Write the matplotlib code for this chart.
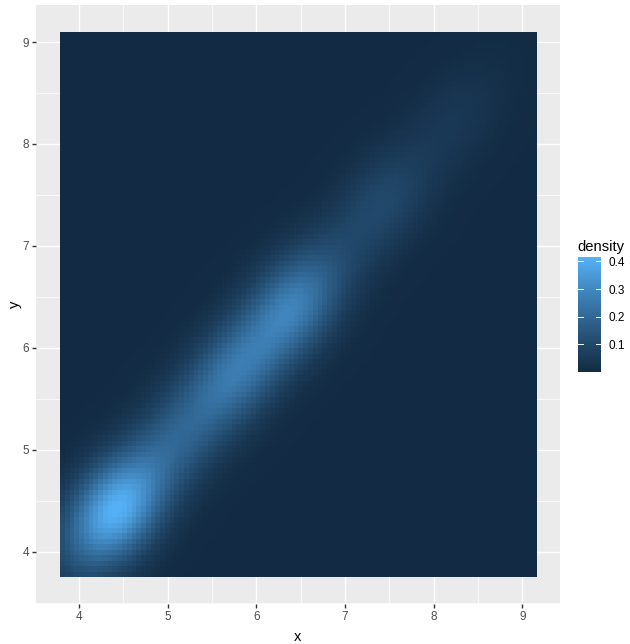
import numpy as np
import matplotlib
matplotlib.use("Agg")
import matplotlib.pyplot as plt
from matplotlib.colors import ListedColormap

plt.rcParams['font.family'] = ['Liberation Sans', 'DejaVu Sans']

# puntos (x, y) a lo largo de la diagonal y cuántas veces aparecen
pt_x = [3.81, 3.85, 3.9, 4.0, 4.1, 4.2, 4.3, 4.4, 4.5, 4.6, 4.7, 4.8, 4.9,
        5.0, 5.1, 5.2, 5.3, 5.4, 5.5, 5.6, 5.7, 5.8, 5.9, 6.0, 6.1, 6.2,
        6.3, 6.4, 6.5, 6.6, 6.7, 6.8, 6.9, 7.0, 7.1, 7.2, 7.3, 7.4, 7.5,
        7.6, 7.7, 7.8, 7.9, 8.0, 8.1, 8.2, 8.3, 8.4, 8.5, 8.6, 8.8, 9.13]
pt_y = [3.84, 3.78, 3.9, 4.0, 4.1, 4.2, 4.3, 4.4, 4.5, 4.6, 4.7, 4.8, 4.9,
        5.0, 5.1, 5.2, 5.3, 5.4, 5.5, 5.6, 5.7, 5.8, 5.9, 6.0, 6.1, 6.2,
        6.3, 6.4, 6.5, 6.6, 6.7, 6.8, 6.9, 7.0, 7.1, 7.2, 7.3, 7.4, 7.5,
        7.6, 7.7, 7.8, 7.9, 8.0, 8.1, 8.2, 8.3, 8.4, 8.5, 8.6, 8.8, 9.07]
pt_n = [1, 2, 5, 8, 12, 17, 27, 30, 28, 20, 13, 11, 10,
        9, 11, 11, 10, 10, 11, 13, 17, 17, 14, 12, 12, 14,
        18, 19, 18, 13, 8, 6, 5, 5, 4, 4, 6, 7, 7,
        5, 3, 3, 2, 2, 3, 3, 3, 2, 2, 1, 1, 1]

x_ticks = [4, 5, 6, 7, 8, 9]
y_ticks = [4, 5, 6, 7, 8, 9]
cb_ticks = [0.1, 0.2, 0.3, 0.4]

h = 0.3       # desvío del kernel (como kde2d: h/4)
n_grid = 100

px, py, pw = np.array(pt_x), np.array(pt_y), np.array(pt_n, dtype=float)
gx = np.linspace(px.min(), px.max(), n_grid)
gy = np.linspace(py.min(), py.max(), n_grid)
kx = np.exp(-0.5 * ((gx[:, None] - px[None, :]) / h) ** 2) / (np.sqrt(2 * np.pi) * h)
ky = np.exp(-0.5 * ((gy[:, None] - py[None, :]) / h) ** 2) / (np.sqrt(2 * np.pi) * h)
dens = (ky * pw) @ kx.T / pw.sum()     # filas = y, columnas = x


# gradiente de ggplot: de #132B43 a #56B1F7 interpolado en Lab
M = np.array([[0.4124, 0.3576, 0.1805], [0.2126, 0.7152, 0.0722], [0.0193, 0.1192, 0.9505]])
WHITE = np.array([0.95047, 1.0, 1.08883])


def hex_to_lab(c):
    rgb = np.array([int(c[i:i + 2], 16) for i in (1, 3, 5)]) / 255
    lin = np.where(rgb <= 0.04045, rgb / 12.92, ((rgb + 0.055) / 1.055) ** 2.4)
    xyz = M @ lin / WHITE
    f = np.where(xyz > (6 / 29) ** 3, np.cbrt(xyz), xyz / (3 * (6 / 29) ** 2) + 4 / 29)
    return np.array([116 * f[1] - 16, 500 * (f[0] - f[1]), 200 * (f[1] - f[2])])


def lab_to_rgb(lab):
    L, a, b = lab[:, 0], lab[:, 1], lab[:, 2]
    fy = (L + 16) / 116
    f = np.stack([fy + a / 500, fy, fy - b / 200], axis=1)
    xyz = np.where(f > 6 / 29, f ** 3, 3 * (6 / 29) ** 2 * (f - 4 / 29)) * WHITE
    lin = np.clip(xyz @ np.linalg.inv(M).T, 0, 1)
    rgb = np.where(lin <= 0.0031308, 12.92 * lin, 1.055 * lin ** (1 / 2.4) - 0.055)
    return np.clip(rgb, 0, 1)


lo, hi = hex_to_lab("#132B43"), hex_to_lab("#56B1F7")
s = np.linspace(0, 1, 256)[:, None]
cmap = ListedColormap(lab_to_rgb(lo + s * (hi - lo)))

W, H = 630, 644
fig = plt.figure(figsize=(W / 100, H / 100), dpi=100)
ax = fig.add_axes([36 / W, 40 / H, 524 / W, 599 / H])
ax.set_facecolor("#EBEBEB")

dx = (gx[-1] - gx[0]) / (n_grid - 1)
dy = (gy[-1] - gy[0]) / (n_grid - 1)
ext = [gx[0] - dx / 2, gx[-1] + dx / 2, gy[0] - dy / 2, gy[-1] + dy / 2]
im = ax.imshow(dens, origin="lower", extent=ext, aspect="auto", cmap=cmap,
               interpolation="nearest", vmin=dens.min(), vmax=dens.max(), zorder=3)

ax.set_xticks(x_ticks)
ax.set_yticks(y_ticks)
ax.set_xticks(np.arange(3.5, 10, 1), minor=True)
ax.set_yticks(np.arange(3.5, 10, 1), minor=True)
# límites después de los ticks (set_ticks agranda la vista)
ax.set_xlim(ext[0] - 0.05 * (ext[1] - ext[0]), ext[1] + 0.05 * (ext[1] - ext[0]))
ax.set_ylim(ext[2] - 0.05 * (ext[3] - ext[2]), ext[3] + 0.05 * (ext[3] - ext[2]))
ax.grid(which="major", color="white", linewidth=1.05, zorder=1)
ax.grid(which="minor", color="white", linewidth=0.5, zorder=1)
ax.set_axisbelow(True)
for sp in ax.spines.values():
    sp.set_visible(False)
ax.tick_params(which="major", length=2.7, width=1.0, color="#333333",
               labelsize=8.5, labelcolor="#4D4D4D", pad=2.2)
ax.tick_params(which="minor", length=0)
ax.set_xlabel("x", fontsize=10.6, labelpad=5)
ax.set_ylabel("y", fontsize=10.6, labelpad=0.5)

# barra de colores estilo ggplot
cax = fig.add_axes([578 / W, (H - 372) / H, 23 / W, 115 / H])
cb = fig.colorbar(im, cax=cax)
cb.outline.set_visible(False)
cb.set_ticks(cb_ticks)
cb.ax.tick_params(length=0, labelsize=8.5, pad=5.5)
for t in cb_ticks:
    cax.plot([0, 0.2], [t, t], color="white", linewidth=0.7, transform=cax.get_yaxis_transform())
    cax.plot([0.8, 1], [t, t], color="white", linewidth=0.7, transform=cax.get_yaxis_transform())
fig.text(577 / W, 1 - 247 / H, "density", fontsize=10.6, va="center", ha="left")

fig.savefig("out.png", dpi=100)
